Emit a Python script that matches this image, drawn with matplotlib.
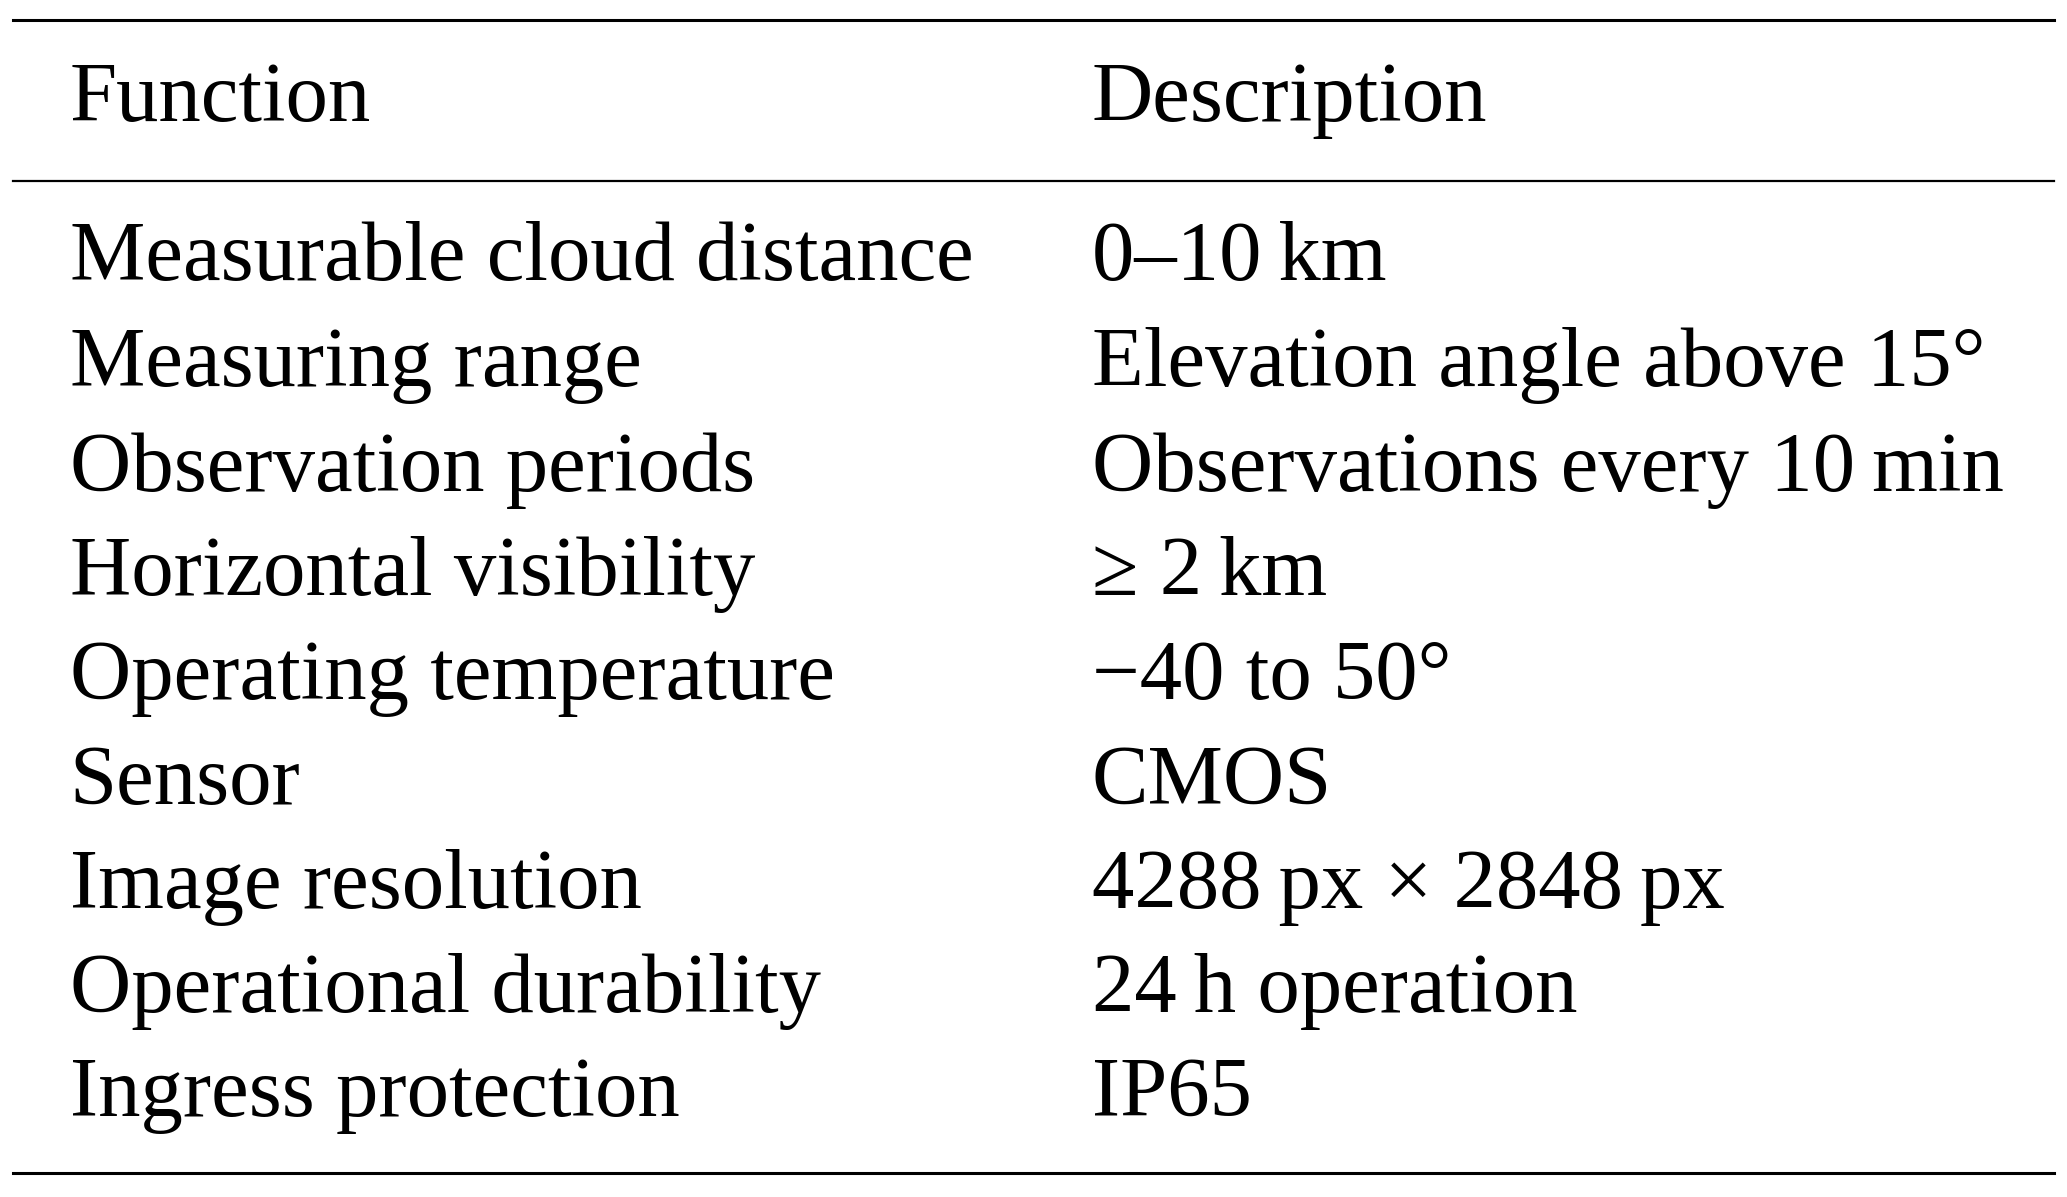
import matplotlib
matplotlib.use("Agg")
import matplotlib.pyplot as plt

header = ["Function", "Description"]
functions = ["Measurable cloud distance", "Measuring range", "Observation periods",
             "Horizontal visibility", "Operating temperature", "Sensor",
             "Image resolution", "Operational durability", "Ingress protection"]
descriptions = ["0–10\u2009km", "Elevation angle above 15°", "Observations every 10\u2009min",
                "≥ 2\u2009km", "−40 to 50°", "CMOS", "4288\u2009px × 2848\u2009px",
                "24\u2009h operation", "IP65"]

W, H = 1568, 908
fig = plt.figure(figsize=(20.67, 11.97), dpi=100)
ax = fig.add_axes([0, 0, 1, 1])
ax.set_xlim(0, W); ax.set_ylim(H, 0); ax.axis("off")
fam = ["Liberation Serif", "DejaVu Serif"]
fs = 61
for y, lw in [(15, 2.2), (137, 1.6), (890, 2.2)]:
    ax.plot([10, 1558], [y, y], color="black", lw=lw)
x1, x2 = 53, 828
ax.text(x1, 76, header[0], fontsize=fs, family=fam, va="center")
ax.text(x2, 76, header[1], fontsize=fs, family=fam, va="center")
ys = [197, 277, 357, 436, 515, 594, 673, 752, 831]
for y, f, d in zip(ys, functions, descriptions):
    ax.text(x1, y, f, fontsize=fs, family=fam, va="center")
    ax.text(x2, y, d, fontsize=fs, family=fam, va="center")
fig.savefig("out.png", dpi=100, facecolor="white")
